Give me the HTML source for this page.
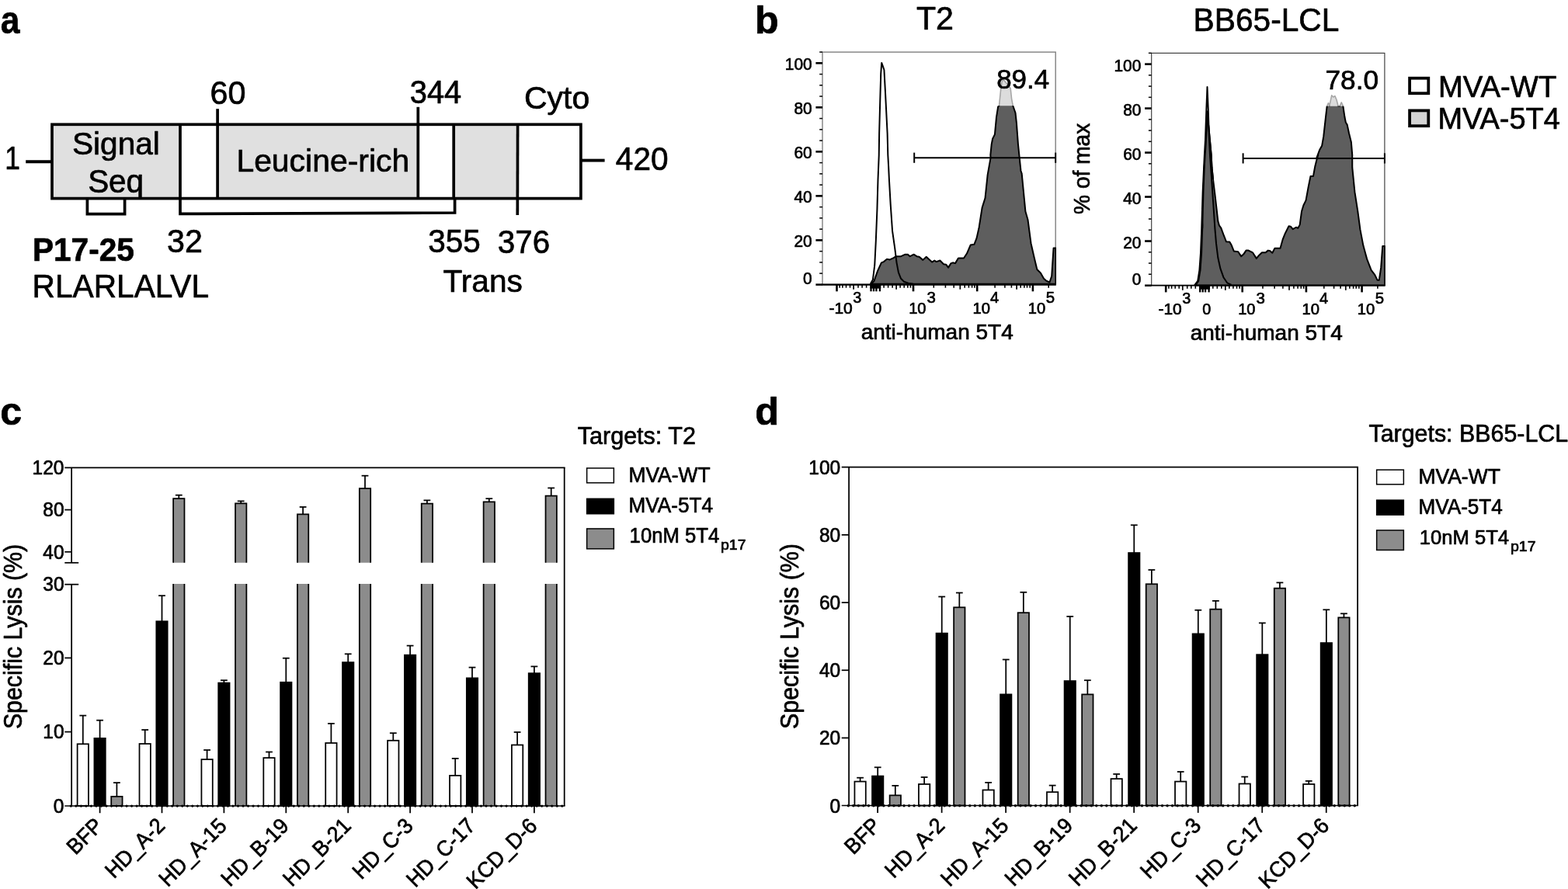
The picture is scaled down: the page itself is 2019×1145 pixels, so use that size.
<!DOCTYPE html>
<html lang="en"><head><meta charset="utf-8"><title>Figure: 5T4 p17-25 epitope, expression and specific lysis</title>
<style>html,body{margin:0;padding:0;background:#fff}body{width:2019px;height:1145px;overflow:hidden}svg{display:block}text{font-family:"Liberation Sans",Arial,Helvetica,sans-serif;fill:#000;stroke:#000;stroke-width:0.7px;stroke-linejoin:round}</style>
</head><body>
<svg width="2019" height="1145" viewBox="0 0 2019 1145">
<rect width="2019" height="1145" fill="#fff"/>
<defs><clipPath id="seqclip"><rect x="60" y="150" width="300" height="105.5"/></clipPath></defs>
<g id="panel-a">
<rect x="67" y="160.3" width="165" height="95.3" fill="#e0e0e0"/>
<rect x="280.1" y="160.3" width="258.2" height="95.3" fill="#e0e0e0"/>
<rect x="584.2" y="160.3" width="82.4" height="95.3" fill="#e0e0e0"/>
<rect x="67" y="160.3" width="680.9" height="95.3" fill="none" stroke="#000" stroke-width="3.7"/>
<line x1="232" y1="160.3" x2="232" y2="255.6" stroke="#000" stroke-width="3.7"/>
<line x1="280.1" y1="140.2" x2="280.1" y2="255.6" stroke="#000" stroke-width="3.7"/>
<line x1="538.3" y1="137.8" x2="538.3" y2="255.6" stroke="#000" stroke-width="3.7"/>
<line x1="584.2" y1="160.3" x2="584.2" y2="255.6" stroke="#000" stroke-width="3.7"/>
<line x1="666.6" y1="160.3" x2="666.3" y2="276.9" stroke="#000" stroke-width="3.7"/>
<path d="M112.4 255.6 L112.4 275.6 L160.6 275.6 L160.6 255.6" fill="none" stroke="#000" stroke-width="3.7"/>
<path d="M232 255.6 L232 275.4 L585.6 274 L585.6 255.6" fill="none" stroke="#000" stroke-width="3.7"/>
<line x1="33.2" y1="208.2" x2="66" y2="208.2" stroke="#000" stroke-width="3.9"/>
<line x1="749" y1="206.6" x2="778.6" y2="206.6" stroke="#000" stroke-width="3.9"/>
<text transform="translate(270.48 134.32) scale(0.9724 1)" font-size="42.54">60</text>
<text transform="translate(527.75 133.43) scale(0.9531 1)" font-size="41.84">344</text>
<text transform="translate(674.9 139.94)" font-size="40.99">Cyto</text>
<text transform="translate(6.3 217.95) scale(0.8386 1)" font-size="42.18">1</text>
<text transform="translate(792.84 219.03) scale(0.9695 1)" font-size="41.84">420</text>
<text transform="translate(92.92 199.19) scale(0.9972 1)" font-size="40.75">Signal</text>
<g clip-path="url(#seqclip)">
<text transform="translate(113.13 247.7) scale(0.9490 1)" font-size="42.65">Seq</text>
</g>
<text transform="translate(304.38 221.2) scale(0.9905 1)" font-size="41.3">Leucine-rich</text>
<text transform="translate(41.91 335.93) scale(0.9714 1)" font-size="41.84" font-weight="bold">P17-25</text>
<text transform="translate(215.11 325.23) scale(0.9841 1)" font-size="41.84">32</text>
<text transform="translate(41.6 383.45) scale(0.9773 1)" font-size="41.6">RLARLALVL</text>
<text transform="translate(551.13 325.23) scale(0.9681 1)" font-size="41.84">355</text>
<text transform="translate(640.83 325.53) scale(0.9569 1)" font-size="42.26">376</text>
<text transform="translate(570.44 376.04) scale(0.9879 1)" font-size="41.15">Trans</text>
</g>
<g id="panel-b">
<text transform="translate(1179.92 37.75) scale(0.9805 1)" font-size="42.01">T2</text>
<text transform="translate(1536.59 39.62) scale(0.9506 1)" font-size="42.83">BB65-LCL</text>
<g id="hist1">
<rect x="1059" y="67.1" width="300.2" height="299.3" fill="#fff" stroke="#808080" stroke-width="1.4"/>
<clipPath id="hc1"><rect x="1057" y="136.3" width="304.2" height="233.1"/></clipPath>
<clipPath id="hl1"><rect x="1209" y="67.1" width="150.2" height="70.2"/></clipPath>
<clipPath id="hf1"><rect x="1059" y="67.1" width="301.1" height="301.3"/></clipPath>
<g clip-path="url(#hf1)">
<g clip-path="url(#hl1)">
<path d="M1121.53 365.85 L1125.46 361.92 L1130.18 348.56 L1134.89 338.34 L1138.04 337.09 L1141.97 333.63 L1145.9 334.41 L1150.61 332.05 L1153.76 330.17 L1160.05 330.17 L1165.55 327.65 L1168.69 327.65 L1171.84 330.17 L1176.55 327.65 L1180.48 330.17 L1183.63 330.8 L1188.34 334.88 L1192.74 330.8 L1196.2 333.94 L1200.13 337.56 L1203.28 335.51 L1205.64 337.09 L1210.35 335.51 L1215.07 340.23 L1218.21 340.7 L1221.04 344.63 L1224.5 339.13 L1226.86 338.34 L1230 339.13 L1233.93 332.53 L1241.01 332.53 L1244.94 326.55 L1249.65 315.55 L1254.37 314.76 L1257.51 306.9 L1260.66 292.75 L1264.59 267.6 L1268.52 255.02 L1271.66 225.15 L1275.59 203.14 L1275.33 199.7 L1276.73 185.73 L1278.12 178.75 L1280.92 173.16 L1283.01 150.81 L1285.11 137.54 L1286.5 136.14 L1288.6 115.88 L1290.28 104.71 L1292.09 102.61 L1294.89 106.1 L1301.17 113.79 L1302.57 127.06 L1304.25 136.14 L1307.46 145.22 L1308.86 157.79 L1310.95 185.73 L1312.35 199.7 L1314.45 219.96 L1315.68 223.58 L1320.4 272.32 L1323.54 283.32 L1327.47 313.19 L1331.4 330.48 L1335.33 346.99 L1340.05 351.71 L1343.98 358.78 L1347.12 361.61 L1351.52 363.5 L1354.2 355.64 L1356.56 319.48 L1359.39 319.48 L1359.39 365.85 Z" fill="#dcdcdc" stroke="#a6a6a6" stroke-width="1.6" stroke-linejoin="round"/>
</g>
<g clip-path="url(#hc1)">
<path d="M1121.53 365.85 L1125.46 361.92 L1130.18 348.56 L1134.89 338.34 L1138.04 337.09 L1141.97 333.63 L1145.9 334.41 L1150.61 332.05 L1153.76 330.17 L1160.05 330.17 L1165.55 327.65 L1168.69 327.65 L1171.84 330.17 L1176.55 327.65 L1180.48 330.17 L1183.63 330.8 L1188.34 334.88 L1192.74 330.8 L1196.2 333.94 L1200.13 337.56 L1203.28 335.51 L1205.64 337.09 L1210.35 335.51 L1215.07 340.23 L1218.21 340.7 L1221.04 344.63 L1224.5 339.13 L1226.86 338.34 L1230 339.13 L1233.93 332.53 L1241.01 332.53 L1244.94 326.55 L1249.65 315.55 L1254.37 314.76 L1257.51 306.9 L1260.66 292.75 L1264.59 267.6 L1268.52 255.02 L1271.66 225.15 L1275.59 203.14 L1275.33 199.7 L1276.73 185.73 L1278.12 178.75 L1280.92 173.16 L1283.01 150.81 L1285.11 137.54 L1286.5 136.14 L1288.6 115.88 L1290.28 104.71 L1292.09 102.61 L1294.89 106.1 L1301.17 113.79 L1302.57 127.06 L1304.25 136.14 L1307.46 145.22 L1308.86 157.79 L1310.95 185.73 L1312.35 199.7 L1314.45 219.96 L1315.68 223.58 L1320.4 272.32 L1323.54 283.32 L1327.47 313.19 L1331.4 330.48 L1335.33 346.99 L1340.05 351.71 L1343.98 358.78 L1347.12 361.61 L1351.52 363.5 L1354.2 355.64 L1356.56 319.48 L1359.39 319.48 L1359.39 365.85 Z" fill="#5e5e5e" stroke="#000" stroke-width="2" stroke-linejoin="round"/>
</g>
<path d="M1120.74 365.85 L1123.89 360.35 L1126.25 341.49 L1127.82 310.05 L1129.39 270.74 L1130.49 231.44 L1131.75 200 L1132.13 171.76 L1133.25 129.85 L1134.23 94.93 L1135.21 80.96 L1137.02 85.85 L1138.42 90.04 L1139.82 115.88 L1141.21 143.82 L1142.61 171.76 L1143.31 199.7 L1144.1 214 L1144.9 231.4 L1146.68 262.88 L1149.04 297.47 L1152.19 319.48 L1154.54 338.34 L1156.9 350.92 L1160.05 358.78 L1163.98 362.71 L1169.48 364.75 L1175.77 365.85" fill="none" stroke="#000" stroke-width="2" stroke-linejoin="round"/>
</g>
<line x1="1177.2" y1="203.2" x2="1359.2" y2="203.2" stroke="#000" stroke-width="2"/>
<line x1="1177.2" y1="196.6" x2="1177.2" y2="209.8" stroke="#000" stroke-width="2"/>
<line x1="1359.2" y1="196.6" x2="1359.2" y2="209.8" stroke="#000" stroke-width="2"/>
<line x1="1058.5" y1="366.6" x2="1359.8" y2="366.6" stroke="#000" stroke-width="2.4"/>
<line x1="1050.4" y1="366.6" x2="1059" y2="366.6" stroke="#000" stroke-width="2.5"/>
<line x1="1055.2" y1="352.14" x2="1059" y2="352.14" stroke="#000" stroke-width="1.5"/>
<line x1="1055.2" y1="337.89" x2="1059" y2="337.89" stroke="#000" stroke-width="1.5"/>
<line x1="1055.2" y1="323.63" x2="1059" y2="323.63" stroke="#000" stroke-width="1.5"/>
<line x1="1050.4" y1="309.38" x2="1059" y2="309.38" stroke="#000" stroke-width="2.6"/>
<line x1="1055.2" y1="295.12" x2="1059" y2="295.12" stroke="#000" stroke-width="1.5"/>
<line x1="1055.2" y1="280.87" x2="1059" y2="280.87" stroke="#000" stroke-width="1.5"/>
<line x1="1055.2" y1="266.62" x2="1059" y2="266.62" stroke="#000" stroke-width="1.5"/>
<line x1="1050.4" y1="252.36" x2="1059" y2="252.36" stroke="#000" stroke-width="2.6"/>
<line x1="1055.2" y1="238.1" x2="1059" y2="238.1" stroke="#000" stroke-width="1.5"/>
<line x1="1055.2" y1="223.85" x2="1059" y2="223.85" stroke="#000" stroke-width="1.5"/>
<line x1="1055.2" y1="209.59" x2="1059" y2="209.59" stroke="#000" stroke-width="1.5"/>
<line x1="1050.4" y1="195.34" x2="1059" y2="195.34" stroke="#000" stroke-width="2.6"/>
<line x1="1055.2" y1="181.08" x2="1059" y2="181.08" stroke="#000" stroke-width="1.5"/>
<line x1="1055.2" y1="166.83" x2="1059" y2="166.83" stroke="#000" stroke-width="1.5"/>
<line x1="1055.2" y1="152.57" x2="1059" y2="152.57" stroke="#000" stroke-width="1.5"/>
<line x1="1050.4" y1="138.32" x2="1059" y2="138.32" stroke="#000" stroke-width="2.6"/>
<line x1="1055.2" y1="124.06" x2="1059" y2="124.06" stroke="#000" stroke-width="1.5"/>
<line x1="1055.2" y1="109.81" x2="1059" y2="109.81" stroke="#000" stroke-width="1.5"/>
<line x1="1055.2" y1="95.56" x2="1059" y2="95.56" stroke="#000" stroke-width="1.5"/>
<line x1="1050.4" y1="81.3" x2="1059" y2="81.3" stroke="#000" stroke-width="2.6"/>
<line x1="1055.2" y1="67.05" x2="1059" y2="67.05" stroke="#000" stroke-width="1.5"/>
<line x1="1077.5" y1="366.4" x2="1077.5" y2="375.3" stroke="#000" stroke-width="2.6"/>
<line x1="1176" y1="366.4" x2="1176" y2="375.3" stroke="#000" stroke-width="2.6"/>
<line x1="1258.2" y1="366.4" x2="1258.2" y2="375.3" stroke="#000" stroke-width="2.6"/>
<line x1="1329.9" y1="366.4" x2="1329.9" y2="375.3" stroke="#000" stroke-width="2.6"/>
<line x1="1081.2" y1="366.4" x2="1081.2" y2="370.7" stroke="#000" stroke-width="1.6"/>
<line x1="1084.9" y1="366.4" x2="1084.9" y2="370.7" stroke="#000" stroke-width="1.6"/>
<line x1="1089.5" y1="366.4" x2="1089.5" y2="370.7" stroke="#000" stroke-width="1.6"/>
<line x1="1094.5" y1="366.4" x2="1094.5" y2="370.7" stroke="#000" stroke-width="1.6"/>
<line x1="1105" y1="366.4" x2="1105" y2="370.7" stroke="#000" stroke-width="1.6"/>
<line x1="1110.1" y1="366.4" x2="1110.1" y2="370.7" stroke="#000" stroke-width="1.6"/>
<line x1="1115.6" y1="366.4" x2="1115.6" y2="370.7" stroke="#000" stroke-width="1.6"/>
<line x1="1138.1" y1="366.4" x2="1138.1" y2="370.7" stroke="#000" stroke-width="1.6"/>
<line x1="1143.6" y1="366.4" x2="1143.6" y2="370.7" stroke="#000" stroke-width="1.6"/>
<line x1="1149.1" y1="366.4" x2="1149.1" y2="370.7" stroke="#000" stroke-width="1.6"/>
<line x1="1159.1" y1="366.4" x2="1159.1" y2="370.7" stroke="#000" stroke-width="1.6"/>
<line x1="1164.2" y1="366.4" x2="1164.2" y2="370.7" stroke="#000" stroke-width="1.6"/>
<line x1="1168.8" y1="366.4" x2="1168.8" y2="370.7" stroke="#000" stroke-width="1.6"/>
<line x1="1172.4" y1="366.4" x2="1172.4" y2="370.7" stroke="#000" stroke-width="1.6"/>
<line x1="1202.3" y1="366.4" x2="1202.3" y2="370.7" stroke="#000" stroke-width="1.6"/>
<line x1="1217.4" y1="366.4" x2="1217.4" y2="370.7" stroke="#000" stroke-width="1.6"/>
<line x1="1228.2" y1="366.4" x2="1228.2" y2="370.7" stroke="#000" stroke-width="1.6"/>
<line x1="1242.2" y1="366.4" x2="1242.2" y2="370.7" stroke="#000" stroke-width="1.6"/>
<line x1="1247.4" y1="366.4" x2="1247.4" y2="370.7" stroke="#000" stroke-width="1.6"/>
<line x1="1251.6" y1="366.4" x2="1251.6" y2="370.7" stroke="#000" stroke-width="1.6"/>
<line x1="1254.9" y1="366.4" x2="1254.9" y2="370.7" stroke="#000" stroke-width="1.6"/>
<line x1="1281.1" y1="366.4" x2="1281.1" y2="370.7" stroke="#000" stroke-width="1.6"/>
<line x1="1293.9" y1="366.4" x2="1293.9" y2="370.7" stroke="#000" stroke-width="1.6"/>
<line x1="1302.4" y1="366.4" x2="1302.4" y2="370.7" stroke="#000" stroke-width="1.6"/>
<line x1="1314.2" y1="366.4" x2="1314.2" y2="370.7" stroke="#000" stroke-width="1.6"/>
<line x1="1318.9" y1="366.4" x2="1318.9" y2="370.7" stroke="#000" stroke-width="1.6"/>
<line x1="1322.5" y1="366.4" x2="1322.5" y2="370.7" stroke="#000" stroke-width="1.6"/>
<line x1="1326.2" y1="366.4" x2="1326.2" y2="370.7" stroke="#000" stroke-width="1.6"/>
<line x1="1350.2" y1="366.4" x2="1350.2" y2="370.7" stroke="#000" stroke-width="1.6"/>
<line x1="1099.1" y1="366.4" x2="1099.1" y2="372.7" stroke="#000" stroke-width="1.7"/>
<line x1="1154.1" y1="366.4" x2="1154.1" y2="372.7" stroke="#000" stroke-width="1.7"/>
<line x1="1236.3" y1="366.4" x2="1236.3" y2="372.7" stroke="#000" stroke-width="1.7"/>
<line x1="1309.1" y1="366.4" x2="1309.1" y2="372.7" stroke="#000" stroke-width="1.7"/>
<rect x="1120.4" y="366.4" width="13.9" height="5.2" fill="#000"/>
<line x1="1121.5" y1="366.4" x2="1121.5" y2="375.3" stroke="#000" stroke-width="2.3"/>
<line x1="1125" y1="366.4" x2="1125" y2="375.3" stroke="#000" stroke-width="2.3"/>
<line x1="1128.4" y1="366.4" x2="1128.4" y2="375.3" stroke="#000" stroke-width="2.3"/>
<line x1="1132.9" y1="366.4" x2="1132.9" y2="375.3" stroke="#000" stroke-width="2.3"/>
<text transform="translate(1010.78 90.36) scale(0.9500 1)" font-size="22">100</text>
<text transform="translate(1022.43 147.38) scale(0.9500 1)" font-size="22">80</text>
<text transform="translate(1022.43 204.4) scale(0.9500 1)" font-size="22">60</text>
<text transform="translate(1022.43 261.42) scale(0.9500 1)" font-size="22">40</text>
<text transform="translate(1022.43 318.44) scale(0.9500 1)" font-size="22">20</text>
<text transform="translate(1034.03 366.06) scale(0.9500 1)" font-size="22">0</text>
<text transform="translate(1067.41 404.14) scale(1.0172 1)" font-size="20.64">-10</text>
<text transform="translate(1098.31 389.95) scale(0.9656 1)" font-size="20.49">3</text>
<text transform="translate(1124.36 404.14) scale(0.9540 1)" font-size="20.64">0</text>
<text transform="translate(1170.15 404.14) scale(0.9716 1)" font-size="20.64">10</text>
<text transform="translate(1193.38 389.95) scale(0.9964 1)" font-size="20.49">3</text>
<text transform="translate(1252.44 404.14) scale(0.9765 1)" font-size="20.64">10</text>
<text transform="translate(1275.1 390.15) scale(0.9577 1)" font-size="21.09">4</text>
<text transform="translate(1323.74 404.14) scale(0.9765 1)" font-size="20.64">10</text>
<text transform="translate(1346.73 389.94) scale(0.9823 1)" font-size="20.79">5</text>
<text transform="translate(1108.66 437)" font-size="28">anti-human 5T4</text>
<text transform="translate(1283.17 114.3)" font-size="34.91">89.4</text>
</g>
<g id="hist2">
<rect x="1482.7" y="68.4" width="300.2" height="299.1" fill="#fff" stroke="#3a3a3a" stroke-width="1.15"/>
<clipPath id="hc2"><rect x="1480.7" y="136.7" width="304.2" height="233.8"/></clipPath>
<clipPath id="hl2"><rect x="1632.7" y="68.4" width="150.2" height="69.3"/></clipPath>
<clipPath id="hf2"><rect x="1482.7" y="68.4" width="301.1" height="301.1"/></clipPath>
<g clip-path="url(#hf2)">
<g clip-path="url(#hl2)">
<path d="M1539.24 367.43 L1543.17 361.92 L1545.53 347.78 L1547.1 325.77 L1548.2 294.32 L1549.46 247.16 L1550.72 215.72 L1551.66 200 L1552.7 185 L1554 160 L1554.9 143.5 L1556 160 L1557.4 175 L1559.7 200 L1560.46 215.72 L1562.04 231.44 L1564.39 250.31 L1566.75 270.74 L1568.32 284.89 L1569.9 290.39 L1572.25 293.54 L1575.4 302.19 L1579.01 311.3 L1583.26 311.62 L1585.62 315.55 L1588.76 323.41 L1594.26 324.19 L1598.19 330.17 L1601.34 327.34 L1604.48 322.62 L1607.63 322.62 L1613.13 325.45 L1617.85 332.84 L1620.99 328.91 L1624.92 325.29 L1629.64 325.29 L1632.78 322.62 L1635.14 322.94 L1638.28 325.77 L1641.43 319.79 L1648.5 319.79 L1651.65 308.47 L1654.79 300.61 L1659.51 291.18 L1661.86 291.65 L1664.69 295.11 L1668.94 292.75 L1671.3 293.85 L1673.65 289.61 L1676.01 272.32 L1678.37 264.46 L1681.51 258.17 L1684.66 240.87 L1687.49 227.04 L1690.95 227.04 L1693.31 214.15 L1695.66 204.72 L1697.24 200 L1695.14 203.89 L1699.33 192.72 L1702.12 187.83 L1704.22 175.95 L1707.01 150.81 L1708.69 136.56 L1710.5 132.65 L1711.9 136.14 L1714.7 122.87 L1716.79 124.96 L1718.89 123.57 L1720.98 128.45 L1723.08 136.56 L1725.17 136.56 L1727.27 131.95 L1729.36 136.56 L1731.46 150.81 L1732.86 157.79 L1734.67 160.59 L1737.05 171.76 L1739.84 182.94 L1741.24 199.7 L1741.25 215.72 L1744.4 247.16 L1748.33 272.32 L1751.47 295.9 L1755.4 316.33 L1760.12 333.63 L1765.62 347.78 L1770.34 354.06 L1773.48 360.67 L1775.84 360.67 L1778.2 344.63 L1780.24 317.12 L1783.07 317.12 L1783.07 367.43 Z" fill="#dcdcdc" stroke="#a6a6a6" stroke-width="1.6" stroke-linejoin="round"/>
</g>
<g clip-path="url(#hc2)">
<path d="M1539.24 367.43 L1543.17 361.92 L1545.53 347.78 L1547.1 325.77 L1548.2 294.32 L1549.46 247.16 L1550.72 215.72 L1551.66 200 L1552.7 185 L1554 160 L1554.9 143.5 L1556 160 L1557.4 175 L1559.7 200 L1560.46 215.72 L1562.04 231.44 L1564.39 250.31 L1566.75 270.74 L1568.32 284.89 L1569.9 290.39 L1572.25 293.54 L1575.4 302.19 L1579.01 311.3 L1583.26 311.62 L1585.62 315.55 L1588.76 323.41 L1594.26 324.19 L1598.19 330.17 L1601.34 327.34 L1604.48 322.62 L1607.63 322.62 L1613.13 325.45 L1617.85 332.84 L1620.99 328.91 L1624.92 325.29 L1629.64 325.29 L1632.78 322.62 L1635.14 322.94 L1638.28 325.77 L1641.43 319.79 L1648.5 319.79 L1651.65 308.47 L1654.79 300.61 L1659.51 291.18 L1661.86 291.65 L1664.69 295.11 L1668.94 292.75 L1671.3 293.85 L1673.65 289.61 L1676.01 272.32 L1678.37 264.46 L1681.51 258.17 L1684.66 240.87 L1687.49 227.04 L1690.95 227.04 L1693.31 214.15 L1695.66 204.72 L1697.24 200 L1695.14 203.89 L1699.33 192.72 L1702.12 187.83 L1704.22 175.95 L1707.01 150.81 L1708.69 136.56 L1710.5 132.65 L1711.9 136.14 L1714.7 122.87 L1716.79 124.96 L1718.89 123.57 L1720.98 128.45 L1723.08 136.56 L1725.17 136.56 L1727.27 131.95 L1729.36 136.56 L1731.46 150.81 L1732.86 157.79 L1734.67 160.59 L1737.05 171.76 L1739.84 182.94 L1741.24 199.7 L1741.25 215.72 L1744.4 247.16 L1748.33 272.32 L1751.47 295.9 L1755.4 316.33 L1760.12 333.63 L1765.62 347.78 L1770.34 354.06 L1773.48 360.67 L1775.84 360.67 L1778.2 344.63 L1780.24 317.12 L1783.07 317.12 L1783.07 367.43 Z" fill="#5e5e5e" stroke="#000" stroke-width="2" stroke-linejoin="round"/>
</g>
<path d="M1548.2 294.32 L1549.46 247.16 L1550.72 215.72 L1551.66 200 L1552.7 185 L1554 160 L1554.9 143.5 L1556 160 L1557.4 175 L1559.7 200 L1560.46 215.72 L1562.04 231.44" fill="#5e5e5e" stroke="#000" stroke-width="2" stroke-linejoin="round"/>
<path d="M1538.14 367.43 L1542.23 361.92 L1544.43 347.78 L1546 325.77 L1547.26 294.32 L1548.67 247.16 L1550.09 215.72 L1550.87 200 L1552 180 L1553.4 140 L1554.5 112 L1555.7 140 L1557 180 L1558 200 L1559.68 223.58 L1561.25 247.16 L1562.82 270.74 L1564.39 294.32 L1565.97 313.19 L1568.32 332.05 L1571.47 346.2 L1575.4 357.21 L1580.12 364.28 L1585.62 366.95" fill="none" stroke="#000" stroke-width="2" stroke-linejoin="round"/>
</g>
<line x1="1600.6" y1="203.9" x2="1782.9" y2="203.9" stroke="#000" stroke-width="2"/>
<line x1="1600.6" y1="197.3" x2="1600.6" y2="210.5" stroke="#000" stroke-width="2"/>
<line x1="1782.9" y1="197.3" x2="1782.9" y2="210.5" stroke="#000" stroke-width="2"/>
<line x1="1482.2" y1="367.7" x2="1783.5" y2="367.7" stroke="#000" stroke-width="1.8"/>
<line x1="1474.1" y1="367.7" x2="1482.7" y2="367.7" stroke="#000" stroke-width="2.5"/>
<line x1="1478.9" y1="353.25" x2="1482.7" y2="353.25" stroke="#000" stroke-width="1.5"/>
<line x1="1478.9" y1="339.01" x2="1482.7" y2="339.01" stroke="#000" stroke-width="1.5"/>
<line x1="1478.9" y1="324.76" x2="1482.7" y2="324.76" stroke="#000" stroke-width="1.5"/>
<line x1="1474.1" y1="310.52" x2="1482.7" y2="310.52" stroke="#000" stroke-width="2.6"/>
<line x1="1478.9" y1="296.27" x2="1482.7" y2="296.27" stroke="#000" stroke-width="1.5"/>
<line x1="1478.9" y1="282.03" x2="1482.7" y2="282.03" stroke="#000" stroke-width="1.5"/>
<line x1="1478.9" y1="267.79" x2="1482.7" y2="267.79" stroke="#000" stroke-width="1.5"/>
<line x1="1474.1" y1="253.54" x2="1482.7" y2="253.54" stroke="#000" stroke-width="2.6"/>
<line x1="1478.9" y1="239.3" x2="1482.7" y2="239.3" stroke="#000" stroke-width="1.5"/>
<line x1="1478.9" y1="225.05" x2="1482.7" y2="225.05" stroke="#000" stroke-width="1.5"/>
<line x1="1478.9" y1="210.81" x2="1482.7" y2="210.81" stroke="#000" stroke-width="1.5"/>
<line x1="1474.1" y1="196.56" x2="1482.7" y2="196.56" stroke="#000" stroke-width="2.6"/>
<line x1="1478.9" y1="182.31" x2="1482.7" y2="182.31" stroke="#000" stroke-width="1.5"/>
<line x1="1478.9" y1="168.07" x2="1482.7" y2="168.07" stroke="#000" stroke-width="1.5"/>
<line x1="1478.9" y1="153.83" x2="1482.7" y2="153.83" stroke="#000" stroke-width="1.5"/>
<line x1="1474.1" y1="139.58" x2="1482.7" y2="139.58" stroke="#000" stroke-width="2.6"/>
<line x1="1478.9" y1="125.34" x2="1482.7" y2="125.34" stroke="#000" stroke-width="1.5"/>
<line x1="1478.9" y1="111.09" x2="1482.7" y2="111.09" stroke="#000" stroke-width="1.5"/>
<line x1="1478.9" y1="96.85" x2="1482.7" y2="96.85" stroke="#000" stroke-width="1.5"/>
<line x1="1474.1" y1="82.6" x2="1482.7" y2="82.6" stroke="#000" stroke-width="2.6"/>
<line x1="1478.9" y1="68.36" x2="1482.7" y2="68.36" stroke="#000" stroke-width="1.5"/>
<line x1="1501.2" y1="367.5" x2="1501.2" y2="376.4" stroke="#000" stroke-width="2.6"/>
<line x1="1599.7" y1="367.5" x2="1599.7" y2="376.4" stroke="#000" stroke-width="2.6"/>
<line x1="1681.9" y1="367.5" x2="1681.9" y2="376.4" stroke="#000" stroke-width="2.6"/>
<line x1="1753.6" y1="367.5" x2="1753.6" y2="376.4" stroke="#000" stroke-width="2.6"/>
<line x1="1504.9" y1="367.5" x2="1504.9" y2="371.8" stroke="#000" stroke-width="1.6"/>
<line x1="1508.6" y1="367.5" x2="1508.6" y2="371.8" stroke="#000" stroke-width="1.6"/>
<line x1="1513.2" y1="367.5" x2="1513.2" y2="371.8" stroke="#000" stroke-width="1.6"/>
<line x1="1518.2" y1="367.5" x2="1518.2" y2="371.8" stroke="#000" stroke-width="1.6"/>
<line x1="1528.7" y1="367.5" x2="1528.7" y2="371.8" stroke="#000" stroke-width="1.6"/>
<line x1="1533.8" y1="367.5" x2="1533.8" y2="371.8" stroke="#000" stroke-width="1.6"/>
<line x1="1539.3" y1="367.5" x2="1539.3" y2="371.8" stroke="#000" stroke-width="1.6"/>
<line x1="1561.8" y1="367.5" x2="1561.8" y2="371.8" stroke="#000" stroke-width="1.6"/>
<line x1="1567.3" y1="367.5" x2="1567.3" y2="371.8" stroke="#000" stroke-width="1.6"/>
<line x1="1572.8" y1="367.5" x2="1572.8" y2="371.8" stroke="#000" stroke-width="1.6"/>
<line x1="1582.8" y1="367.5" x2="1582.8" y2="371.8" stroke="#000" stroke-width="1.6"/>
<line x1="1587.9" y1="367.5" x2="1587.9" y2="371.8" stroke="#000" stroke-width="1.6"/>
<line x1="1592.5" y1="367.5" x2="1592.5" y2="371.8" stroke="#000" stroke-width="1.6"/>
<line x1="1596.1" y1="367.5" x2="1596.1" y2="371.8" stroke="#000" stroke-width="1.6"/>
<line x1="1626" y1="367.5" x2="1626" y2="371.8" stroke="#000" stroke-width="1.6"/>
<line x1="1641.1" y1="367.5" x2="1641.1" y2="371.8" stroke="#000" stroke-width="1.6"/>
<line x1="1651.9" y1="367.5" x2="1651.9" y2="371.8" stroke="#000" stroke-width="1.6"/>
<line x1="1665.9" y1="367.5" x2="1665.9" y2="371.8" stroke="#000" stroke-width="1.6"/>
<line x1="1671.1" y1="367.5" x2="1671.1" y2="371.8" stroke="#000" stroke-width="1.6"/>
<line x1="1675.3" y1="367.5" x2="1675.3" y2="371.8" stroke="#000" stroke-width="1.6"/>
<line x1="1678.6" y1="367.5" x2="1678.6" y2="371.8" stroke="#000" stroke-width="1.6"/>
<line x1="1704.8" y1="367.5" x2="1704.8" y2="371.8" stroke="#000" stroke-width="1.6"/>
<line x1="1717.6" y1="367.5" x2="1717.6" y2="371.8" stroke="#000" stroke-width="1.6"/>
<line x1="1726.1" y1="367.5" x2="1726.1" y2="371.8" stroke="#000" stroke-width="1.6"/>
<line x1="1737.9" y1="367.5" x2="1737.9" y2="371.8" stroke="#000" stroke-width="1.6"/>
<line x1="1742.6" y1="367.5" x2="1742.6" y2="371.8" stroke="#000" stroke-width="1.6"/>
<line x1="1746.2" y1="367.5" x2="1746.2" y2="371.8" stroke="#000" stroke-width="1.6"/>
<line x1="1749.9" y1="367.5" x2="1749.9" y2="371.8" stroke="#000" stroke-width="1.6"/>
<line x1="1773.9" y1="367.5" x2="1773.9" y2="371.8" stroke="#000" stroke-width="1.6"/>
<line x1="1522.8" y1="367.5" x2="1522.8" y2="373.8" stroke="#000" stroke-width="1.7"/>
<line x1="1577.8" y1="367.5" x2="1577.8" y2="373.8" stroke="#000" stroke-width="1.7"/>
<line x1="1660" y1="367.5" x2="1660" y2="373.8" stroke="#000" stroke-width="1.7"/>
<line x1="1732.8" y1="367.5" x2="1732.8" y2="373.8" stroke="#000" stroke-width="1.7"/>
<rect x="1544.1" y="367.5" width="13.9" height="5.2" fill="#000"/>
<line x1="1545.2" y1="367.5" x2="1545.2" y2="376.4" stroke="#000" stroke-width="2.3"/>
<line x1="1548.7" y1="367.5" x2="1548.7" y2="376.4" stroke="#000" stroke-width="2.3"/>
<line x1="1552.1" y1="367.5" x2="1552.1" y2="376.4" stroke="#000" stroke-width="2.3"/>
<line x1="1556.6" y1="367.5" x2="1556.6" y2="376.4" stroke="#000" stroke-width="2.3"/>
<text transform="translate(1434.48 91.66) scale(0.9500 1)" font-size="22">100</text>
<text transform="translate(1446.13 148.64) scale(0.9500 1)" font-size="22">80</text>
<text transform="translate(1446.13 205.62) scale(0.9500 1)" font-size="22">60</text>
<text transform="translate(1446.13 262.6) scale(0.9500 1)" font-size="22">40</text>
<text transform="translate(1446.13 319.58) scale(0.9500 1)" font-size="22">20</text>
<text transform="translate(1457.73 367.16) scale(0.9500 1)" font-size="22">0</text>
<text transform="translate(1491.41 405.44) scale(1.0172 1)" font-size="20.64">-10</text>
<text transform="translate(1522.31 391.25) scale(0.9656 1)" font-size="20.49">3</text>
<text transform="translate(1548.36 405.44) scale(0.9540 1)" font-size="20.64">0</text>
<text transform="translate(1594.15 405.44) scale(0.9716 1)" font-size="20.64">10</text>
<text transform="translate(1617.38 391.25) scale(0.9964 1)" font-size="20.49">3</text>
<text transform="translate(1676.44 405.44) scale(0.9765 1)" font-size="20.64">10</text>
<text transform="translate(1699.1 391.45) scale(0.9577 1)" font-size="21.09">4</text>
<text transform="translate(1747.74 405.44) scale(0.9765 1)" font-size="20.64">10</text>
<text transform="translate(1770.73 391.24) scale(0.9823 1)" font-size="20.79">5</text>
<text transform="translate(1532.66 438.04)" font-size="28">anti-human 5T4</text>
<text transform="translate(1706.5 115.4) scale(1.0058 1)" font-size="35.05">78.0</text>
</g>
<text transform="translate(1403 274.95) rotate(-90) scale(0.9845 1) translate(-1 0)" font-size="28.6">% of max</text>
<rect x="1815.1" y="100.7" width="24.2" height="19.5" fill="#fff" stroke="#000" stroke-width="3.8"/>
<rect x="1815.1" y="142.4" width="24.2" height="19.8" fill="#d3d3d3" stroke="#000" stroke-width="3.8"/>
<text transform="translate(1851.99 125.45) scale(1.0088 1)" font-size="37.96">MVA-WT</text>
<text transform="translate(1851.42 165.87) scale(0.9875 1)" font-size="38.42">MVA-5T4</text>
</g>
<g id="panel-c">
<line x1="106.8" y1="921.6" x2="106.8" y2="958.4" stroke="#000" stroke-width="1.75"/>
<line x1="102.4" y1="921.6" x2="111.2" y2="921.6" stroke="#000" stroke-width="1.75"/>
<rect x="99.62" y="958.27" width="14.35" height="79.63" fill="#fff" stroke="#000" stroke-width="1.75"/>
<line x1="128.6" y1="927.7" x2="128.6" y2="951" stroke="#000" stroke-width="1.75"/>
<line x1="124.2" y1="927.7" x2="133" y2="927.7" stroke="#000" stroke-width="1.75"/>
<rect x="121.42" y="950.88" width="14.35" height="87.03" fill="#000" stroke="#000" stroke-width="1.75"/>
<line x1="150.4" y1="1008.1" x2="150.4" y2="1026" stroke="#000" stroke-width="1.75"/>
<line x1="146" y1="1008.1" x2="154.8" y2="1008.1" stroke="#000" stroke-width="1.75"/>
<rect x="143.22" y="1025.88" width="14.35" height="12.03" fill="#8c8c8c" stroke="#000" stroke-width="1.75"/>
<line x1="186.7" y1="940" x2="186.7" y2="958.1" stroke="#000" stroke-width="1.75"/>
<line x1="182.3" y1="940" x2="191.1" y2="940" stroke="#000" stroke-width="1.75"/>
<rect x="179.52" y="957.98" width="14.35" height="79.93" fill="#fff" stroke="#000" stroke-width="1.75"/>
<line x1="208.5" y1="767.2" x2="208.5" y2="800.4" stroke="#000" stroke-width="1.75"/>
<line x1="204.1" y1="767.2" x2="212.9" y2="767.2" stroke="#000" stroke-width="1.75"/>
<rect x="201.32" y="800.27" width="14.35" height="237.63" fill="#000" stroke="#000" stroke-width="1.75"/>
<line x1="230.3" y1="637.7" x2="230.3" y2="642.2" stroke="#000" stroke-width="1.75"/>
<line x1="225.9" y1="637.7" x2="234.7" y2="637.7" stroke="#000" stroke-width="1.75"/>
<path d="M223.12 724.7 V642.08 H237.47 V724.7" fill="#8c8c8c" stroke="#000" stroke-width="1.75"/>
<rect x="223.12" y="752" width="14.35" height="285.9" fill="#8c8c8c"/>
<path d="M223.12 752 V1037.9 M237.47 752 V1037.9" fill="none" stroke="#000" stroke-width="1.75"/>
<line x1="266.6" y1="966" x2="266.6" y2="978.2" stroke="#000" stroke-width="1.75"/>
<line x1="262.2" y1="966" x2="271" y2="966" stroke="#000" stroke-width="1.75"/>
<rect x="259.42" y="978.08" width="14.35" height="59.83" fill="#fff" stroke="#000" stroke-width="1.75"/>
<line x1="288.4" y1="876.2" x2="288.4" y2="879.7" stroke="#000" stroke-width="1.75"/>
<line x1="284" y1="876.2" x2="292.8" y2="876.2" stroke="#000" stroke-width="1.75"/>
<rect x="281.22" y="879.58" width="14.35" height="158.33" fill="#000" stroke="#000" stroke-width="1.75"/>
<line x1="310.2" y1="645.4" x2="310.2" y2="648.4" stroke="#000" stroke-width="1.75"/>
<line x1="305.8" y1="645.4" x2="314.6" y2="645.4" stroke="#000" stroke-width="1.75"/>
<path d="M303.02 724.7 V648.27 H317.38 V724.7" fill="#8c8c8c" stroke="#000" stroke-width="1.75"/>
<rect x="303.02" y="752" width="14.35" height="285.9" fill="#8c8c8c"/>
<path d="M303.02 752 V1037.9 M317.38 752 V1037.9" fill="none" stroke="#000" stroke-width="1.75"/>
<line x1="346.5" y1="968.5" x2="346.5" y2="976.2" stroke="#000" stroke-width="1.75"/>
<line x1="342.1" y1="968.5" x2="350.9" y2="968.5" stroke="#000" stroke-width="1.75"/>
<rect x="339.32" y="976.08" width="14.35" height="61.83" fill="#fff" stroke="#000" stroke-width="1.75"/>
<line x1="368.3" y1="847.7" x2="368.3" y2="878.9" stroke="#000" stroke-width="1.75"/>
<line x1="363.9" y1="847.7" x2="372.7" y2="847.7" stroke="#000" stroke-width="1.75"/>
<rect x="361.12" y="878.77" width="14.35" height="159.13" fill="#000" stroke="#000" stroke-width="1.75"/>
<line x1="390.1" y1="653" x2="390.1" y2="662.5" stroke="#000" stroke-width="1.75"/>
<line x1="385.7" y1="653" x2="394.5" y2="653" stroke="#000" stroke-width="1.75"/>
<path d="M382.93 724.7 V662.38 H397.28 V724.7" fill="#8c8c8c" stroke="#000" stroke-width="1.75"/>
<rect x="382.93" y="752" width="14.35" height="285.9" fill="#8c8c8c"/>
<path d="M382.93 752 V1037.9 M397.28 752 V1037.9" fill="none" stroke="#000" stroke-width="1.75"/>
<line x1="426.4" y1="931.9" x2="426.4" y2="957.1" stroke="#000" stroke-width="1.75"/>
<line x1="422" y1="931.9" x2="430.8" y2="931.9" stroke="#000" stroke-width="1.75"/>
<rect x="419.23" y="956.98" width="14.35" height="80.93" fill="#fff" stroke="#000" stroke-width="1.75"/>
<line x1="448.2" y1="842.3" x2="448.2" y2="853.2" stroke="#000" stroke-width="1.75"/>
<line x1="443.8" y1="842.3" x2="452.6" y2="842.3" stroke="#000" stroke-width="1.75"/>
<rect x="441.03" y="853.08" width="14.35" height="184.83" fill="#000" stroke="#000" stroke-width="1.75"/>
<line x1="470" y1="612.7" x2="470" y2="629.3" stroke="#000" stroke-width="1.75"/>
<line x1="465.6" y1="612.7" x2="474.4" y2="612.7" stroke="#000" stroke-width="1.75"/>
<path d="M462.83 724.7 V629.17 H477.18 V724.7" fill="#8c8c8c" stroke="#000" stroke-width="1.75"/>
<rect x="462.83" y="752" width="14.35" height="285.9" fill="#8c8c8c"/>
<path d="M462.83 752 V1037.9 M477.18 752 V1037.9" fill="none" stroke="#000" stroke-width="1.75"/>
<line x1="506.3" y1="944.2" x2="506.3" y2="953.9" stroke="#000" stroke-width="1.75"/>
<line x1="501.9" y1="944.2" x2="510.7" y2="944.2" stroke="#000" stroke-width="1.75"/>
<rect x="499.12" y="953.77" width="14.35" height="84.13" fill="#fff" stroke="#000" stroke-width="1.75"/>
<line x1="528.1" y1="831.6" x2="528.1" y2="843.8" stroke="#000" stroke-width="1.75"/>
<line x1="523.7" y1="831.6" x2="532.5" y2="831.6" stroke="#000" stroke-width="1.75"/>
<rect x="520.93" y="843.67" width="14.35" height="194.23" fill="#000" stroke="#000" stroke-width="1.75"/>
<line x1="549.9" y1="644.4" x2="549.9" y2="648.8" stroke="#000" stroke-width="1.75"/>
<line x1="545.5" y1="644.4" x2="554.3" y2="644.4" stroke="#000" stroke-width="1.75"/>
<path d="M542.73 724.7 V648.67 H557.08 V724.7" fill="#8c8c8c" stroke="#000" stroke-width="1.75"/>
<rect x="542.73" y="752" width="14.35" height="285.9" fill="#8c8c8c"/>
<path d="M542.73 752 V1037.9 M557.08 752 V1037.9" fill="none" stroke="#000" stroke-width="1.75"/>
<line x1="586.2" y1="976.9" x2="586.2" y2="999" stroke="#000" stroke-width="1.75"/>
<line x1="581.8" y1="976.9" x2="590.6" y2="976.9" stroke="#000" stroke-width="1.75"/>
<rect x="579.03" y="998.88" width="14.35" height="39.03" fill="#fff" stroke="#000" stroke-width="1.75"/>
<line x1="608" y1="859.6" x2="608" y2="873.5" stroke="#000" stroke-width="1.75"/>
<line x1="603.6" y1="859.6" x2="612.4" y2="859.6" stroke="#000" stroke-width="1.75"/>
<rect x="600.83" y="873.38" width="14.35" height="164.53" fill="#000" stroke="#000" stroke-width="1.75"/>
<line x1="629.8" y1="642.2" x2="629.8" y2="646.4" stroke="#000" stroke-width="1.75"/>
<line x1="625.4" y1="642.2" x2="634.2" y2="642.2" stroke="#000" stroke-width="1.75"/>
<path d="M622.62 724.7 V646.27 H636.98 V724.7" fill="#8c8c8c" stroke="#000" stroke-width="1.75"/>
<rect x="622.62" y="752" width="14.35" height="285.9" fill="#8c8c8c"/>
<path d="M622.62 752 V1037.9 M636.98 752 V1037.9" fill="none" stroke="#000" stroke-width="1.75"/>
<line x1="666.1" y1="943" x2="666.1" y2="959.6" stroke="#000" stroke-width="1.75"/>
<line x1="661.7" y1="943" x2="670.5" y2="943" stroke="#000" stroke-width="1.75"/>
<rect x="658.93" y="959.48" width="14.35" height="78.43" fill="#fff" stroke="#000" stroke-width="1.75"/>
<line x1="687.9" y1="858.4" x2="687.9" y2="867.3" stroke="#000" stroke-width="1.75"/>
<line x1="683.5" y1="858.4" x2="692.3" y2="858.4" stroke="#000" stroke-width="1.75"/>
<rect x="680.73" y="867.17" width="14.35" height="170.73" fill="#000" stroke="#000" stroke-width="1.75"/>
<line x1="709.7" y1="628.5" x2="709.7" y2="638.7" stroke="#000" stroke-width="1.75"/>
<line x1="705.3" y1="628.5" x2="714.1" y2="628.5" stroke="#000" stroke-width="1.75"/>
<path d="M702.53 724.7 V638.58 H716.88 V724.7" fill="#8c8c8c" stroke="#000" stroke-width="1.75"/>
<rect x="702.53" y="752" width="14.35" height="285.9" fill="#8c8c8c"/>
<path d="M702.53 752 V1037.9 M716.88 752 V1037.9" fill="none" stroke="#000" stroke-width="1.75"/>
<line x1="83.3" y1="602.3" x2="727.58" y2="602.3" stroke="#000" stroke-width="1.75"/>
<line x1="726.7" y1="602.3" x2="726.7" y2="1037.9" stroke="#000" stroke-width="1.75"/>
<line x1="92.15" y1="602.3" x2="92.15" y2="724.8" stroke="#000" stroke-width="1.75"/>
<line x1="92.15" y1="752.7" x2="92.15" y2="1037.9" stroke="#000" stroke-width="1.75"/>
<line x1="83.3" y1="724.8" x2="101.2" y2="724.8" stroke="#000" stroke-width="1.75"/>
<line x1="83.3" y1="752.7" x2="101.2" y2="752.7" stroke="#000" stroke-width="1.75"/>
<line x1="83.3" y1="1037.9" x2="727.58" y2="1037.9" stroke="#000" stroke-width="1.5"/>
<line x1="91.35" y1="1038.1" x2="726.7" y2="1038.1" stroke="#000" stroke-width="3.4" stroke-dasharray="0 6.52" stroke-linecap="round"/>
<line x1="83.3" y1="656.6" x2="92.15" y2="656.6" stroke="#000" stroke-width="1.75"/>
<line x1="83.3" y1="710.8" x2="92.15" y2="710.8" stroke="#000" stroke-width="1.75"/>
<line x1="83.3" y1="847.4" x2="92.15" y2="847.4" stroke="#000" stroke-width="1.75"/>
<line x1="83.3" y1="942.6" x2="92.15" y2="942.6" stroke="#000" stroke-width="1.75"/>
<text transform="translate(41.57 611.36) scale(0.9850 1)" font-size="24.9">120</text>
<text transform="translate(55.25 665.46) scale(0.9850 1)" font-size="24.9">80</text>
<text transform="translate(55.25 719.86) scale(0.9850 1)" font-size="24.9">40</text>
<text transform="translate(55.25 761.46) scale(0.9850 1)" font-size="24.9">30</text>
<text transform="translate(55.25 856.26) scale(0.9850 1)" font-size="24.9">20</text>
<text transform="translate(55.25 951.16) scale(0.9850 1)" font-size="24.9">10</text>
<text transform="translate(68.86 1046.76) scale(0.9850 1)" font-size="24.9">0</text>
<text transform="translate(28 937.75) rotate(-90) scale(0.9398 1) translate(-1.45 0)" font-size="32.3">Specific Lysis (%)</text>
<line x1="128.6" y1="1037.9" x2="128.6" y2="1047.2" stroke="#000" stroke-width="1.75"/>
<text transform="translate(133.1 1066.2) rotate(-45) scale(0.9550 1) translate(-52.99 0)" font-size="28">BFP</text>
<line x1="208.5" y1="1037.9" x2="208.5" y2="1047.2" stroke="#000" stroke-width="1.75"/>
<text transform="translate(213 1066.2) rotate(-45) scale(0.9550 1) translate(-98.14 0)" font-size="28">HD_A-2</text>
<line x1="288.4" y1="1037.9" x2="288.4" y2="1047.2" stroke="#000" stroke-width="1.75"/>
<text transform="translate(292.9 1066.2) rotate(-45) scale(0.9550 1) translate(-114.03 0)" font-size="28">HD_A-15</text>
<line x1="368.3" y1="1037.9" x2="368.3" y2="1047.2" stroke="#000" stroke-width="1.75"/>
<text transform="translate(372.8 1066.2) rotate(-45) scale(0.9550 1) translate(-113.89 0)" font-size="28">HD_B-19</text>
<line x1="448.2" y1="1037.9" x2="448.2" y2="1047.2" stroke="#000" stroke-width="1.75"/>
<text transform="translate(452.7 1066.2) rotate(-45) scale(0.9550 1) translate(-113.82 0)" font-size="28">HD_B-21</text>
<line x1="528.1" y1="1037.9" x2="528.1" y2="1047.2" stroke="#000" stroke-width="1.75"/>
<text transform="translate(532.6 1066.2) rotate(-45) scale(0.9550 1) translate(-99.89 0)" font-size="28">HD_C-3</text>
<line x1="608" y1="1037.9" x2="608" y2="1047.2" stroke="#000" stroke-width="1.75"/>
<text transform="translate(612.5 1066.2) rotate(-45) scale(0.9550 1) translate(-115.29 0)" font-size="28">HD_C-17</text>
<line x1="687.9" y1="1037.9" x2="687.9" y2="1047.2" stroke="#000" stroke-width="1.75"/>
<text transform="translate(692.4 1066.2) rotate(-45) scale(0.9550 1) translate(-118.58 0)" font-size="28">KCD_D-6</text>
<g>
<text transform="translate(743.76 572.1) scale(0.9540 1)" font-size="32">Targets: T2</text>
<rect x="755.65" y="602.95" width="34.7" height="18.9" fill="#fff" stroke="#000" stroke-width="1.5"/>
<rect x="755.65" y="642.35" width="34.7" height="19.4" fill="#000" stroke="#000" stroke-width="1.5"/>
<rect x="755.65" y="680.95" width="34.7" height="25.9" fill="#8c8c8c" stroke="#000" stroke-width="1.5"/>
<text transform="translate(809.47 621.25) scale(0.9706 1)" font-size="27.2">MVA-WT</text>
<text transform="translate(809.49 660.38) scale(0.9551 1)" font-size="27.38">MVA-5T4</text>
<text transform="translate(810.62 699.28) scale(0.9563 1)" font-size="26.86">10nM 5T4</text>
<text transform="translate(927.98 707.56) scale(1.0397 1)" font-size="18.77">p17</text>
</g>
</g>
<g id="panel-d">
<line x1="1107.6" y1="1001.7" x2="1107.6" y2="1006.7" stroke="#000" stroke-width="1.75"/>
<line x1="1103.2" y1="1001.7" x2="1112" y2="1001.7" stroke="#000" stroke-width="1.75"/>
<rect x="1100.43" y="1006.58" width="14.35" height="31.02" fill="#fff" stroke="#000" stroke-width="1.75"/>
<line x1="1130.2" y1="988.3" x2="1130.2" y2="999.7" stroke="#000" stroke-width="1.75"/>
<line x1="1125.8" y1="988.3" x2="1134.6" y2="988.3" stroke="#000" stroke-width="1.75"/>
<rect x="1123.03" y="999.58" width="14.35" height="38.02" fill="#000" stroke="#000" stroke-width="1.75"/>
<line x1="1152.8" y1="1011.9" x2="1152.8" y2="1024.5" stroke="#000" stroke-width="1.75"/>
<line x1="1148.4" y1="1011.9" x2="1157.2" y2="1011.9" stroke="#000" stroke-width="1.75"/>
<rect x="1145.62" y="1024.38" width="14.35" height="13.22" fill="#8c8c8c" stroke="#000" stroke-width="1.75"/>
<line x1="1190.12" y1="1001" x2="1190.12" y2="1010.1" stroke="#000" stroke-width="1.75"/>
<line x1="1185.72" y1="1001" x2="1194.52" y2="1001" stroke="#000" stroke-width="1.75"/>
<rect x="1182.95" y="1009.98" width="14.35" height="27.62" fill="#fff" stroke="#000" stroke-width="1.75"/>
<line x1="1212.72" y1="768.5" x2="1212.72" y2="815.8" stroke="#000" stroke-width="1.75"/>
<line x1="1208.32" y1="768.5" x2="1217.12" y2="768.5" stroke="#000" stroke-width="1.75"/>
<rect x="1205.55" y="815.67" width="14.35" height="221.92" fill="#000" stroke="#000" stroke-width="1.75"/>
<line x1="1235.32" y1="763.5" x2="1235.32" y2="782.4" stroke="#000" stroke-width="1.75"/>
<line x1="1230.92" y1="763.5" x2="1239.72" y2="763.5" stroke="#000" stroke-width="1.75"/>
<rect x="1228.14" y="782.27" width="14.35" height="255.32" fill="#8c8c8c" stroke="#000" stroke-width="1.75"/>
<line x1="1272.64" y1="1007.9" x2="1272.64" y2="1017.6" stroke="#000" stroke-width="1.75"/>
<line x1="1268.24" y1="1007.9" x2="1277.04" y2="1007.9" stroke="#000" stroke-width="1.75"/>
<rect x="1265.47" y="1017.48" width="14.35" height="20.12" fill="#fff" stroke="#000" stroke-width="1.75"/>
<line x1="1295.24" y1="849.5" x2="1295.24" y2="894.5" stroke="#000" stroke-width="1.75"/>
<line x1="1290.84" y1="849.5" x2="1299.64" y2="849.5" stroke="#000" stroke-width="1.75"/>
<rect x="1288.07" y="894.38" width="14.35" height="143.22" fill="#000" stroke="#000" stroke-width="1.75"/>
<line x1="1317.84" y1="762.8" x2="1317.84" y2="789.3" stroke="#000" stroke-width="1.75"/>
<line x1="1313.44" y1="762.8" x2="1322.24" y2="762.8" stroke="#000" stroke-width="1.75"/>
<rect x="1310.66" y="789.17" width="14.35" height="248.42" fill="#8c8c8c" stroke="#000" stroke-width="1.75"/>
<line x1="1355.16" y1="1011.6" x2="1355.16" y2="1020.3" stroke="#000" stroke-width="1.75"/>
<line x1="1350.76" y1="1011.6" x2="1359.56" y2="1011.6" stroke="#000" stroke-width="1.75"/>
<rect x="1347.99" y="1020.17" width="14.35" height="17.42" fill="#fff" stroke="#000" stroke-width="1.75"/>
<line x1="1377.76" y1="794" x2="1377.76" y2="877.2" stroke="#000" stroke-width="1.75"/>
<line x1="1373.36" y1="794" x2="1382.16" y2="794" stroke="#000" stroke-width="1.75"/>
<rect x="1370.59" y="877.08" width="14.35" height="160.52" fill="#000" stroke="#000" stroke-width="1.75"/>
<line x1="1400.36" y1="876.2" x2="1400.36" y2="894.5" stroke="#000" stroke-width="1.75"/>
<line x1="1395.96" y1="876.2" x2="1404.76" y2="876.2" stroke="#000" stroke-width="1.75"/>
<rect x="1393.18" y="894.38" width="14.35" height="143.22" fill="#8c8c8c" stroke="#000" stroke-width="1.75"/>
<line x1="1437.68" y1="997" x2="1437.68" y2="1003.2" stroke="#000" stroke-width="1.75"/>
<line x1="1433.28" y1="997" x2="1442.08" y2="997" stroke="#000" stroke-width="1.75"/>
<rect x="1430.51" y="1003.08" width="14.35" height="34.52" fill="#fff" stroke="#000" stroke-width="1.75"/>
<line x1="1460.28" y1="676.3" x2="1460.28" y2="712.2" stroke="#000" stroke-width="1.75"/>
<line x1="1455.88" y1="676.3" x2="1464.68" y2="676.3" stroke="#000" stroke-width="1.75"/>
<rect x="1453.11" y="712.08" width="14.35" height="325.52" fill="#000" stroke="#000" stroke-width="1.75"/>
<line x1="1482.88" y1="734" x2="1482.88" y2="752.4" stroke="#000" stroke-width="1.75"/>
<line x1="1478.48" y1="734" x2="1487.28" y2="734" stroke="#000" stroke-width="1.75"/>
<rect x="1475.7" y="752.27" width="14.35" height="285.32" fill="#8c8c8c" stroke="#000" stroke-width="1.75"/>
<line x1="1520.2" y1="994" x2="1520.2" y2="1006.7" stroke="#000" stroke-width="1.75"/>
<line x1="1515.8" y1="994" x2="1524.6" y2="994" stroke="#000" stroke-width="1.75"/>
<rect x="1513.03" y="1006.58" width="14.35" height="31.02" fill="#fff" stroke="#000" stroke-width="1.75"/>
<line x1="1542.8" y1="785.8" x2="1542.8" y2="816.5" stroke="#000" stroke-width="1.75"/>
<line x1="1538.4" y1="785.8" x2="1547.2" y2="785.8" stroke="#000" stroke-width="1.75"/>
<rect x="1535.62" y="816.38" width="14.35" height="221.22" fill="#000" stroke="#000" stroke-width="1.75"/>
<line x1="1565.4" y1="773.9" x2="1565.4" y2="784.8" stroke="#000" stroke-width="1.75"/>
<line x1="1561" y1="773.9" x2="1569.8" y2="773.9" stroke="#000" stroke-width="1.75"/>
<rect x="1558.22" y="784.67" width="14.35" height="252.92" fill="#8c8c8c" stroke="#000" stroke-width="1.75"/>
<line x1="1602.72" y1="1000.5" x2="1602.72" y2="1009.6" stroke="#000" stroke-width="1.75"/>
<line x1="1598.32" y1="1000.5" x2="1607.12" y2="1000.5" stroke="#000" stroke-width="1.75"/>
<rect x="1595.55" y="1009.48" width="14.35" height="28.12" fill="#fff" stroke="#000" stroke-width="1.75"/>
<line x1="1625.32" y1="802.4" x2="1625.32" y2="843.3" stroke="#000" stroke-width="1.75"/>
<line x1="1620.92" y1="802.4" x2="1629.72" y2="802.4" stroke="#000" stroke-width="1.75"/>
<rect x="1618.15" y="843.17" width="14.35" height="194.42" fill="#000" stroke="#000" stroke-width="1.75"/>
<line x1="1647.92" y1="750.4" x2="1647.92" y2="757.8" stroke="#000" stroke-width="1.75"/>
<line x1="1643.52" y1="750.4" x2="1652.32" y2="750.4" stroke="#000" stroke-width="1.75"/>
<rect x="1640.75" y="757.67" width="14.35" height="279.92" fill="#8c8c8c" stroke="#000" stroke-width="1.75"/>
<line x1="1685.24" y1="1005.9" x2="1685.24" y2="1010.1" stroke="#000" stroke-width="1.75"/>
<line x1="1680.84" y1="1005.9" x2="1689.64" y2="1005.9" stroke="#000" stroke-width="1.75"/>
<rect x="1678.07" y="1009.98" width="14.35" height="27.62" fill="#fff" stroke="#000" stroke-width="1.75"/>
<line x1="1707.84" y1="785.3" x2="1707.84" y2="828.2" stroke="#000" stroke-width="1.75"/>
<line x1="1703.44" y1="785.3" x2="1712.24" y2="785.3" stroke="#000" stroke-width="1.75"/>
<rect x="1700.67" y="828.08" width="14.35" height="209.52" fill="#000" stroke="#000" stroke-width="1.75"/>
<line x1="1730.44" y1="790.3" x2="1730.44" y2="795.5" stroke="#000" stroke-width="1.75"/>
<line x1="1726.04" y1="790.3" x2="1734.84" y2="790.3" stroke="#000" stroke-width="1.75"/>
<rect x="1723.27" y="795.38" width="14.35" height="242.22" fill="#8c8c8c" stroke="#000" stroke-width="1.75"/>
<line x1="1083.7" y1="601.7" x2="1748.97" y2="601.7" stroke="#000" stroke-width="1.75"/>
<line x1="1748.1" y1="601.7" x2="1748.1" y2="1037.6" stroke="#000" stroke-width="1.75"/>
<line x1="1093.1" y1="601.7" x2="1093.1" y2="1037.6" stroke="#000" stroke-width="1.75"/>
<line x1="1083.7" y1="1037.6" x2="1748.97" y2="1037.6" stroke="#000" stroke-width="1.5"/>
<line x1="1092.3" y1="1037.8" x2="1748.1" y2="1037.8" stroke="#000" stroke-width="3.4" stroke-dasharray="0 6.52" stroke-linecap="round"/>
<line x1="1083.7" y1="950.42" x2="1093.1" y2="950.42" stroke="#000" stroke-width="1.75"/>
<line x1="1083.7" y1="863.24" x2="1093.1" y2="863.24" stroke="#000" stroke-width="1.75"/>
<line x1="1083.7" y1="776.06" x2="1093.1" y2="776.06" stroke="#000" stroke-width="1.75"/>
<line x1="1083.7" y1="688.88" x2="1093.1" y2="688.88" stroke="#000" stroke-width="1.75"/>
<text transform="translate(1068.56 1046.66) scale(0.9850 1)" font-size="24.9">0</text>
<text transform="translate(1054.95 959.48) scale(0.9850 1)" font-size="24.9">20</text>
<text transform="translate(1054.95 872.3) scale(0.9850 1)" font-size="24.9">40</text>
<text transform="translate(1054.95 785.12) scale(0.9850 1)" font-size="24.9">60</text>
<text transform="translate(1054.95 697.94) scale(0.9850 1)" font-size="24.9">80</text>
<text transform="translate(1041.27 610.76) scale(0.9850 1)" font-size="24.9">100</text>
<text transform="translate(1027.8 937.65) rotate(-90) scale(0.9422 1) translate(-1.45 0)" font-size="32.3">Specific Lysis (%)</text>
<line x1="1130.1" y1="1037.6" x2="1130.1" y2="1046.9" stroke="#000" stroke-width="1.75"/>
<text transform="translate(1134.6 1065.9) rotate(-45) scale(0.9550 1) translate(-52.99 0)" font-size="28">BFP</text>
<line x1="1212.62" y1="1037.6" x2="1212.62" y2="1046.9" stroke="#000" stroke-width="1.75"/>
<text transform="translate(1217.12 1065.9) rotate(-45) scale(0.9550 1) translate(-98.14 0)" font-size="28">HD_A-2</text>
<line x1="1295.14" y1="1037.6" x2="1295.14" y2="1046.9" stroke="#000" stroke-width="1.75"/>
<text transform="translate(1299.64 1065.9) rotate(-45) scale(0.9550 1) translate(-114.03 0)" font-size="28">HD_A-15</text>
<line x1="1377.66" y1="1037.6" x2="1377.66" y2="1046.9" stroke="#000" stroke-width="1.75"/>
<text transform="translate(1382.16 1065.9) rotate(-45) scale(0.9550 1) translate(-113.89 0)" font-size="28">HD_B-19</text>
<line x1="1460.18" y1="1037.6" x2="1460.18" y2="1046.9" stroke="#000" stroke-width="1.75"/>
<text transform="translate(1464.68 1065.9) rotate(-45) scale(0.9550 1) translate(-113.82 0)" font-size="28">HD_B-21</text>
<line x1="1542.7" y1="1037.6" x2="1542.7" y2="1046.9" stroke="#000" stroke-width="1.75"/>
<text transform="translate(1547.2 1065.9) rotate(-45) scale(0.9550 1) translate(-99.89 0)" font-size="28">HD_C-3</text>
<line x1="1625.22" y1="1037.6" x2="1625.22" y2="1046.9" stroke="#000" stroke-width="1.75"/>
<text transform="translate(1629.72 1065.9) rotate(-45) scale(0.9550 1) translate(-115.29 0)" font-size="28">HD_C-17</text>
<line x1="1707.74" y1="1037.6" x2="1707.74" y2="1046.9" stroke="#000" stroke-width="1.75"/>
<text transform="translate(1712.24 1065.9) rotate(-45) scale(0.9550 1) translate(-118.58 0)" font-size="28">KCD_D-6</text>
<g>
<text transform="translate(1762.47 569.4) scale(0.9499 1)" font-size="32">Targets: BB65-LCL</text>
<rect x="1772.65" y="605.15" width="34.7" height="18.7" fill="#fff" stroke="#000" stroke-width="1.5"/>
<rect x="1772.65" y="644.15" width="34.7" height="19" fill="#000" stroke="#000" stroke-width="1.5"/>
<rect x="1772.65" y="682.95" width="34.7" height="25.5" fill="#8c8c8c" stroke="#000" stroke-width="1.5"/>
<text transform="translate(1826.47 623.25) scale(0.9840 1)" font-size="26.91">MVA-WT</text>
<text transform="translate(1826.49 662.38) scale(0.9542 1)" font-size="27.38">MVA-5T4</text>
<text transform="translate(1827.63 701.08) scale(0.9656 1)" font-size="26.57">10nM 5T4</text>
<text transform="translate(1944.88 709.63) scale(1.0370 1)" font-size="18.88">p17</text>
</g>
</g>
<text transform="translate(0.81 42.95) scale(0.8893 1)" font-size="50.05" font-weight="bold">a</text>
<text transform="translate(971.99 42.96) scale(1.0144 1)" font-size="49.39" font-weight="bold">b</text>
<text transform="translate(0.14 547.05) scale(1.0079 1)" font-size="49.86" font-weight="bold">c</text>
<text transform="translate(972.23 547.06) scale(1.0252 1)" font-size="49.25" font-weight="bold">d</text>
</svg></body></html>
